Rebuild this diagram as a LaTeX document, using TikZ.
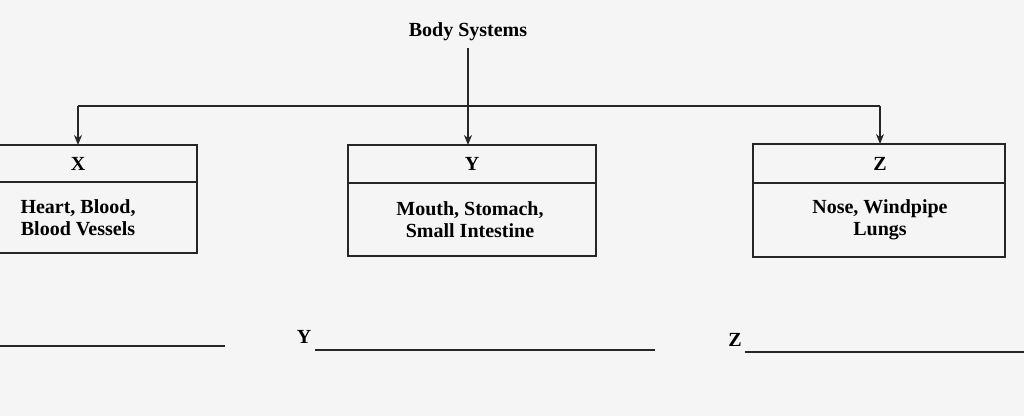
\documentclass[tikz,border=0pt]{standalone}
\usepackage{fontspec}
\setmainfont{Liberation Serif}
\usetikzlibrary{arrows.meta}
\begin{document}
\begin{tikzpicture}[x=0.5pt,y=-0.5pt,
  ln/.style={line width=1.2pt,black!85},
  arr/.style={ln,-{Stealth[length=5pt,width=4pt]}},
  lab/.style={font=\bfseries\fontsize{10}{11}\selectfont,align=center}]
\useasboundingbox[fill=gray!8] (0,0) rectangle (1024,416);
\node[lab] (title) at (468,32) {Body Systems};
% boxes
\draw[ln] (-5,145) rectangle (197,253); \draw[ln] (-5,182) -- (197,182);
\draw[ln] (348,145) rectangle (596,256); \draw[ln] (348,183) -- (596,183);
\draw[ln] (753,144) rectangle (1005,257); \draw[ln] (753,183) -- (1005,183);
\coordinate (xt) at (78,145); \coordinate (yt) at (468,145); \coordinate (zt) at (880,144);
\node[lab] (xl) at (78,164) {X};
\node[lab] (yl) at (472,164) {Y};
\node[lab] (zl) at (880,164) {Z};
\node[lab] (xb) at (78,218) {Heart, Blood,\\Blood Vessels};
\node[lab] (yb) at (470,220) {Mouth, Stomach,\\Small Intestine};
\node[lab] (zb) at (880,220) {Nose, Windpipe\\Lungs};
% connectors
\draw[arr] (title.south) -- (yt);
\coordinate (hl) at (78,106); \coordinate (hr) at (880,106);
\draw[ln] (hl) -- (hr);
\draw[arr] (hl) -- (xt);
\draw[arr] (hr) -- (zt);
% answer lines
\draw[ln,line width=0.8pt] (0,346) -- (225,346);
\node[lab] (ya) at (304,337) {Y};
\draw[ln,line width=0.8pt] (315,350) -- (655,350);
\node[lab] (za) at (735,340) {Z};
\draw[ln,line width=0.8pt] (745,352) -- (1024,352);
\end{tikzpicture}
\end{document}
